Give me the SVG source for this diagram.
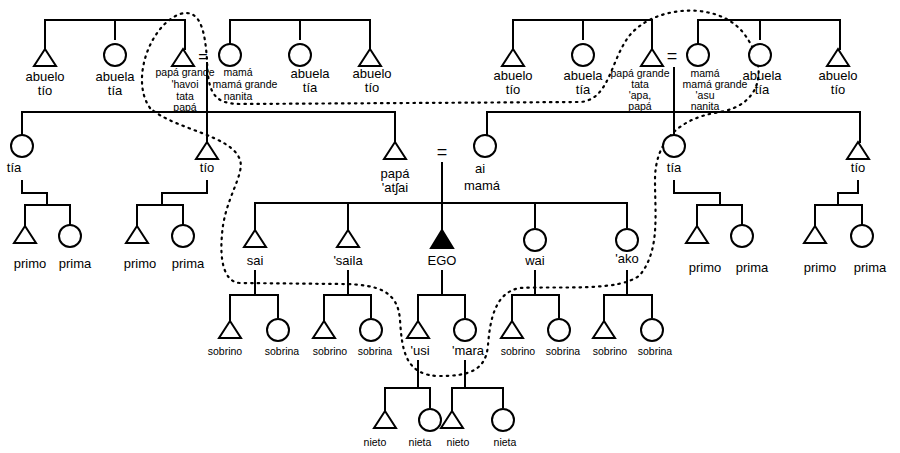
<svg xmlns="http://www.w3.org/2000/svg" width="900" height="453" viewBox="0 0 900 453">
<style>
.l{stroke:#000;stroke-width:2;fill:none}
.s{stroke:#000;stroke-width:2;fill:#fff}
text{font-family:"Liberation Sans",Arial,sans-serif;font-size:13px;text-anchor:middle;fill:#000}
.sm{font-size:10.5px}
.dot{stroke:#000;stroke-width:2.2;fill:none;stroke-dasharray:1.5 5;stroke-linecap:round}
</style>
<defs>
<path id="tri" d="M0,-9 L11,8 L-11,8 Z" class="s"/>
<circle id="cir" r="11" class="s"/>
</defs>
<g id="connectors">
<path class="l" d="M45,50 V20 H185 V50 M115,40 V20"/>
<path class="l" d="M230,48 V20 H370 V50 M300,40 V20"/>
<path class="l" d="M207,62 V143 M22,137 V112 H395 V143"/>
<path class="l" d="M513,50 V20 H652 V50 M583,40 V20"/>
<path class="l" d="M698,48 V20 H840 V50 M760,40 V20"/>
<path class="l" d="M674,67 V135 M487,135 V112 H860 V143"/>
<path class="l" d="M442,162 V230 M255,230 V203 H627 V228 M348,230 V203 M535,228 V203"/>
<path class="l" d="M22,180 V193 H47 V205 M25,227 V205 H70 V225"/>
<path class="l" d="M207,180 V193 H162 V205 M137,227 V205 H183 V225"/>
<path class="l" d="M674,180 V193 H720 V205 M697,227 V205 H742 V225"/>
<path class="l" d="M858,180 V193 H838 V205 M815,227 V205 H862 V225"/>
<path class="l" d="M255,270 V295 M230,322 V295 H278 V318"/>
<path class="l" d="M348,270 V295 M324,322 V295 H371 V318"/>
<path class="l" d="M442,270 V295 M418,322 V295 H465 V318"/>
<path class="l" d="M535,270 V295 M512,322 V295 H559 V318"/>
<path class="l" d="M627,270 V295 M604,322 V295 H652 V318"/>
<path class="l" d="M418,360 V388 M385,412 V388 H430 V408"/>
<path class="l" d="M465,360 V388 M452,412 V388 H503 V408"/>
<path class="dot" d="M150,108 C130,80 150,25 180,14 C200,8 205,30 207,60 C208,90 212,104 240,104 L580,102 C610,100 610,60 630,35 C655,5 720,0 745,35 C770,70 760,105 720,112 C680,118 655,140 655,180 C655,215 660,250 640,275 C620,292 560,286 520,288 C495,292 490,320 488,345 C486,370 470,376 440,376 C405,376 402,350 400,320 C398,292 380,284 340,284 L240,283 C222,282 220,255 222,235 C224,200 245,175 240,160 C232,135 175,130 150,108 Z"/>
</g>
<g id="n1"><use href="#tri" x="45" y="58"/><text x="45" y="81">abuelo</text><text x="45" y="95">tío</text></g>
<g id="n2"><use href="#cir" x="115" y="55"/><text x="115" y="81">abuela</text><text x="115" y="95">tía</text></g>
<g id="n3"><use href="#tri" x="183" y="58"/><text class="sm" x="185" y="76">papá grande</text><text class="sm" x="185" y="88">'havoi</text><text class="sm" x="185" y="100">tata</text><text class="sm" x="185" y="111">papá</text></g>
<text x="203" y="62" style="font-size:16px">=</text>
<g id="n4"><use href="#cir" x="230" y="55"/><text class="sm" x="238" y="76">mamá</text><text class="sm" x="245" y="88">mamá grande</text><text class="sm" x="238" y="100">nanita</text></g>
<g id="n5"><use href="#cir" x="300" y="55"/><text x="310" y="78">abuela</text><text x="310" y="92">tía</text></g>
<g id="n6"><use href="#tri" x="370" y="58"/><text x="372" y="78">abuelo</text><text x="372" y="92">tío</text></g>
<g id="n7"><use href="#tri" x="513" y="58"/><text x="513" y="80">abuelo</text><text x="513" y="94">tío</text></g>
<g id="n8"><use href="#cir" x="583" y="55"/><text x="583" y="80">abuela</text><text x="583" y="94">tía</text></g>
<g id="n9"><use href="#tri" x="652" y="58"/><text class="sm" x="640" y="77">papá grande</text><text class="sm" x="640" y="88">tata</text><text class="sm" x="640" y="99">'apa,</text><text class="sm" x="640" y="110">papá</text></g>
<text x="672" y="62" style="font-size:18px">=</text>
<g id="n10"><use href="#cir" x="698" y="55"/><text class="sm" x="705" y="77">mamá</text><text class="sm" x="715" y="88">mamá grande</text><text class="sm" x="705" y="99">'asu</text><text class="sm" x="705" y="110">nanita</text></g>
<g id="n11"><use href="#cir" x="760" y="55"/><text x="762" y="80">abuela</text><text x="762" y="94">tía</text></g>
<g id="n12"><use href="#tri" x="838" y="58"/><text x="838" y="80">abuelo</text><text x="838" y="94">tío</text></g>
<g id="n13"><use href="#cir" x="22" y="146"/><text x="14" y="172">tía</text></g>
<g id="n14"><use href="#tri" x="207" y="151"/><text x="207" y="172">tío</text></g>
<g id="n15"><use href="#tri" x="395" y="151"/><text x="395" y="178">papá</text><text x="395" y="192">'atʃai</text></g>
<text x="442" y="158" style="font-size:18px">=</text>
<g id="n16"><use href="#cir" x="485" y="146"/><text x="480" y="173">ai</text><text x="482" y="190">mamá</text></g>
<g id="n17"><use href="#cir" x="674" y="146"/><text x="674" y="172">tía</text></g>
<g id="n18"><use href="#tri" x="858" y="151"/><text x="858" y="172">tío</text></g>
<g id="n19"><use href="#tri" x="25" y="235"/><text x="30" y="268">primo</text></g>
<g id="n20"><use href="#cir" x="70" y="236"/><text x="75" y="268">prima</text></g>
<g id="n21"><use href="#tri" x="137" y="235"/><text x="140" y="268">primo</text></g>
<g id="n22"><use href="#cir" x="183" y="236"/><text x="188" y="268">prima</text></g>
<g id="n23"><use href="#tri" x="697" y="235"/><text x="705" y="272">primo</text></g>
<g id="n24"><use href="#cir" x="742" y="236"/><text x="752" y="272">prima</text></g>
<g id="n25"><use href="#tri" x="815" y="235"/><text x="820" y="272">primo</text></g>
<g id="n26"><use href="#cir" x="862" y="236"/><text x="870" y="272">prima</text></g>
<g id="n27"><use href="#tri" x="255" y="239"/><text x="255" y="265">sai</text></g>
<g id="n28"><use href="#tri" x="348" y="239"/><text x="348" y="265">'saila</text></g>
<g id="n29"><path d="M442,230 L453,248 L431,248 Z" fill="#000" stroke="#000" stroke-width="2"/><text x="442" y="265">EGO</text></g>
<g id="n30"><use href="#cir" x="535" y="240"/><text x="535" y="265">wai</text></g>
<g id="n31"><use href="#cir" x="627" y="240"/><text x="627" y="263">'ako</text></g>
<g id="n32"><use href="#tri" x="230" y="330"/><text class="sm" x="225" y="355">sobrino</text></g>
<g id="n33"><use href="#cir" x="278" y="330"/><text class="sm" x="282" y="355">sobrina</text></g>
<g id="n34"><use href="#tri" x="324" y="330"/><text class="sm" x="330" y="355">sobrino</text></g>
<g id="n35"><use href="#cir" x="371" y="330"/><text class="sm" x="375" y="355">sobrina</text></g>
<g id="n36"><use href="#tri" x="418" y="330"/><text x="420" y="355">'usi</text></g>
<g id="n37"><use href="#cir" x="465" y="330"/><text x="468" y="355">'mara</text></g>
<g id="n38"><use href="#tri" x="512" y="330"/><text class="sm" x="518" y="355">sobrino</text></g>
<g id="n39"><use href="#cir" x="559" y="330"/><text class="sm" x="563" y="355">sobrina</text></g>
<g id="n40"><use href="#tri" x="604" y="330"/><text class="sm" x="610" y="355">sobrino</text></g>
<g id="n41"><use href="#cir" x="652" y="330"/><text class="sm" x="655" y="355">sobrina</text></g>
<g id="n42"><use href="#tri" x="385" y="420"/><text class="sm" x="375" y="446">nieto</text></g>
<g id="n43"><use href="#cir" x="430" y="420"/><text class="sm" x="420" y="446">nieta</text></g>
<g id="n44"><use href="#tri" x="452" y="420"/><text class="sm" x="458" y="446">nieto</text></g>
<g id="n45"><use href="#cir" x="503" y="420"/><text class="sm" x="505" y="446">nieta</text></g>
</svg>
